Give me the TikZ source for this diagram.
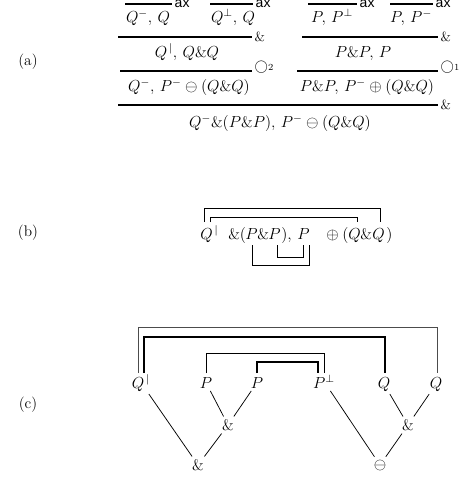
\documentclass[tikz,border=0pt]{standalone}
\usepackage{fontspec}
\newfontfamily\axfont{Liberation Sans}
\usetikzlibrary{calc}
\begin{document}
\begin{tikzpicture}[x=0.75pt,y=-0.75pt,
  font=\fontsize{11.5}{14}\selectfont,
  rule/.style={line width=1.1pt},
  rlab/.style={anchor=west, inner sep=1.5pt, font=\fontsize{10.5}{12}\selectfont\axfont},
  olab/.style={anchor=west, inner sep=1.5pt, font=\fontsize{10}{12}\selectfont},
  seqt/.style={anchor=base, inner sep=0pt},
  tok/.style={anchor=base west, inner sep=0pt},
  link/.style={line width=0.6pt},
  thicklink/.style={line width=1.5pt},
  thinlink/.style={line width=0.5pt, draw=black!70},
  edge/.style={line width=0.55pt},
  cnode/.style={anchor=base, inner sep=2pt},
  conn/.style={inner sep=2pt}]
\useasboundingbox (0,0) rectangle (474,493);

% ---------- (a) ----------
\node (la) at (28,62) {(a)};
% row 1 (axioms)
\draw[rule] (125,4) -- (172,4) node[rlab] (ax1) {ax};
\draw[rule] (210,4) -- (253,4) node[rlab] (ax2) {ax};
\draw[rule] (308,4) -- (357,4) node[rlab] (ax3) {ax};
\draw[rule] (390,4) -- (433,4) node[rlab] (ax4) {ax};
\node[seqt] (s11) at (148,22) {$Q^{-},\,Q$};
\node[seqt] (s12) at (233,22) {$Q^{\perp},\,Q$};
\node[seqt] (s13) at (332,22) {$P,\,P^{\perp}$};
\node[seqt] (s14) at (411,22) {$P,\,P^{-}$};
% row 2
\draw[rule] (118,37) -- (252,37) node[olab] (r21) {$\&$};
\draw[rule] (302,37) -- (438,37) node[olab] (r22) {$\&$};
\node[seqt] (s21) at (187,57) {$Q^{\,|},\,Q\&Q$};
\node[seqt] (s22) at (363,57) {$P\&P,\,P$};
% row 3
\draw[rule] (120,71) -- (252,71) node[olab,yshift=3pt] (r31) {$\bigcirc${\scriptsize 2}};
\draw[rule] (297,71) -- (438,71) node[olab,yshift=3pt] (r32) {$\bigcirc${\scriptsize 1}};
\node[seqt] (s31) at (189,91) {$Q^{-},\,P^{-}\ominus(Q\&Q)$};
\node[seqt] (s32) at (367,91) {$P\&P,\,P^{-}\oplus(Q\&Q)$};
% row 4
\draw[rule] (118,105) -- (438,105) node[olab] (r41) {$\&$};
\node[seqt] (s41) at (280,127) {$Q^{-}\&(P\&P),\,P^{-}\ominus(Q\&Q)$};

% ---------- (b) ----------
\node (lb) at (28,233) {(b)};
\node[tok] (bQ1) at (200,239) {$Q^{\,|}$};
\node[tok] (bt1) at (228,239) {$\&($};
\node[tok] (bP1) at (245,239) {$P$};
\node[tok] (bt2) at (257,239) {$\&$};
\node[tok] (bP2) at (268,239) {$P$};
\node[tok] (bt3) at (281,239) {$),$};
\node[tok] (bP3) at (297,239) {$P$};
\node[tok] (bt4) at (326,239) {$\oplus$};
\node[tok] (bt5) at (342,239) {$($};
\node[tok] (bQ2) at (348,239) {$Q$};
\node[tok] (bt6) at (360,239) {$\&$};
\node[tok] (bQ3) at (372,239) {$Q$};
\node[tok] (bt7) at (386,239) {$)$};
\coordinate (bLa) at (0,208);
\coordinate (bLb) at (0,217);
\coordinate (bTop) at (0,222);
\coordinate (bLc) at (0,265);
\coordinate (bLd) at (0,257);
\coordinate (bBot) at (0,245);
\coordinate (bq1o) at ([xshift=3pt]bQ1.north west);
\coordinate (bq1i) at ([xshift=7.5pt]bQ1.north west);
\coordinate (bq3) at ([xshift=1.5pt]bQ3.north);
\coordinate (bq2) at ([xshift=2pt]bQ2.north);
\coordinate (bp1) at ([xshift=1pt]bP1.south);
\coordinate (bp2) at ([xshift=2pt]bP2.south);
\coordinate (bp3o) at ([xshift=4.5pt]bP3.south);
\coordinate (bp3i) at ([xshift=0pt]bP3.south);
\draw[link] (bq1o |- bTop) |- (bq3 |- bLa) -- (bq3 |- bTop);
\draw[link] (bq1i |- bTop) |- (bq2 |- bLb) -- (bq2 |- bTop);
\draw[link] (bp1 |- bBot) |- (bp3o |- bLc) -- (bp3o |- bBot);
\draw[link] (bp2 |- bBot) |- (bp3i |- bLd) -- (bp3i |- bBot);

% ---------- (c) ----------
\node (lc) at (28,405) {(c)};
\node[cnode] (cQ1) at (141,388) {$Q^{\,|}$};
\node[cnode] (cP1) at (206,388) {$P$};
\node[cnode] (cP2) at (257,388) {$P$};
\node[cnode] (cPp) at (324,388) {$P^{\perp}$};
\node[cnode] (cQ2) at (384,388) {$Q$};
\node[cnode] (cQ3) at (436,388) {$Q$};
\node[conn] (ca2) at (228,425) {$\&$};
\node[conn] (ca1) at (198,465) {$\&$};
\node[conn] (ca3) at (408,425) {$\&$};
\node[conn] (cm) at (380,465) {$\ominus$};
\draw[edge] (cQ1) -- (ca1);
\draw[edge] (cP1) -- (ca2);
\draw[edge] (cP2) -- (ca2);
\draw[edge] (ca2) -- (ca1);
\draw[edge] (cPp) -- (cm);
\draw[edge] (cQ2) -- (ca3);
\draw[edge] (cQ3) -- (ca3);
\draw[edge] (ca3) -- (cm);
\coordinate (cBot) at (0,373);
\coordinate (cL1) at (0,327);
\coordinate (cL2) at (0,337);
\coordinate (cL3) at (0,353);
\coordinate (cL4) at (0,362);
\coordinate (cq1o) at ([xshift=-2.25pt]cQ1.north);
\coordinate (cq1i) at ([xshift=2.25pt]cQ1.north);
\coordinate (cq3) at ([xshift=0.75pt]cQ3.north);
\coordinate (cq2) at ([xshift=0.75pt]cQ2.north);
\coordinate (cp1) at (cP1.north);
\coordinate (cp2) at (cP2.north);
\coordinate (cppo) at (cPp.north);
\coordinate (cppi) at ([xshift=-4.5pt]cPp.north);
\draw[thinlink] (cq1o |- cBot) |- (cq3 |- cL1) -- (cq3 |- cBot);
\draw[thicklink] (cq1i |- cBot) |- (cq2 |- cL2) -- (cq2 |- cBot);
\draw[link] (cp1 |- cBot) |- (cppo |- cL3) -- (cppo |- cBot);
\draw[thicklink] (cp2 |- cBot) |- (cppi |- cL4) -- (cppi |- cBot);
\end{tikzpicture}
\end{document}
